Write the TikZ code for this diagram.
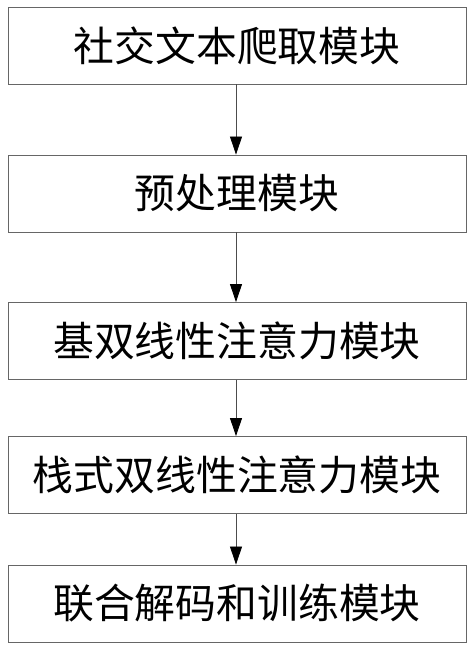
\documentclass[tikz,border=0pt]{standalone}
\usepackage{fontspec}
\newfontfamily\cjk{Noto Sans CJK SC}
\usetikzlibrary{arrows.meta}
\begin{document}
\begin{tikzpicture}[x=1bp,y=-1bp,
  box/.style={draw=black!60,line width=0.9bp,minimum width=458bp,minimum height=77bp,inner sep=0pt,font=\cjk\fontsize{41}{43}\selectfont},
  arr/.style={draw=black!70,line width=0.8bp,-{Triangle[length=18bp,width=12bp,fill=black,color=black]}}]
\useasboundingbox (0,0) rectangle (474,651);
\node[box] (a) at (237,45.5) {社交文本爬取模块};
\node[box] (b) at (237,193.5) {预处理模块};
\node[box] (c) at (237,341) {基双线性注意力模块};
\node[box] (d) at (237,475) {栈式双线性注意力模块};
\node[box] (e) at (237,603.5) {联合解码和训练模块};
\draw[arr] (a.south -| 236,0) -- (b.north -| 236,0);
\draw[arr] (b.south -| 236,0) -- (c.north -| 236,0);
\draw[arr] (c.south -| 236,0) -- (d.north -| 236,0);
\draw[arr] (d.south -| 236,0) -- (e.north -| 236,0);
\end{tikzpicture}
\end{document}
